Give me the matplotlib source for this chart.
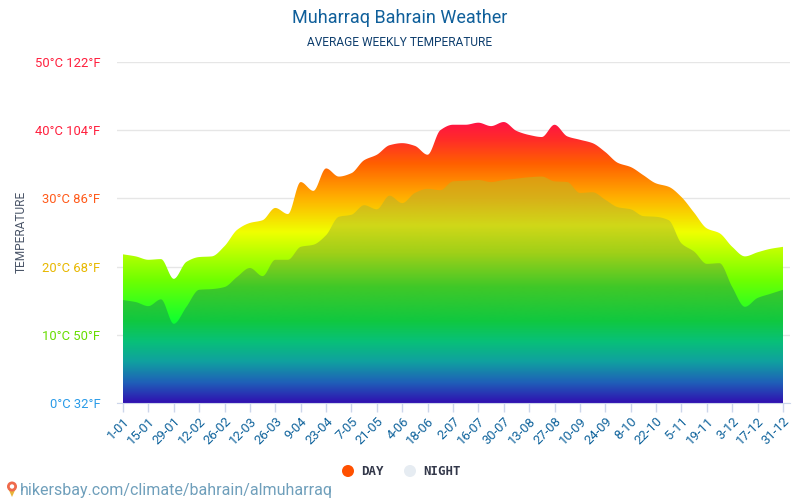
import numpy as np
import matplotlib
matplotlib.use("Agg")
import matplotlib.pyplot as plt
from matplotlib.colors import LinearSegmentedColormap
from matplotlib.patches import Circle, Polygon

plt.rcParams["font.family"] = ["Roboto", "DejaVu Sans"]

day = [21.8, 21.5, 21.0, 21.1, 18.2, 20.7, 21.4, 21.5, 23.0, 25.4, 26.4, 26.8, 28.6, 27.7,
       32.4, 31.1, 34.4, 33.2, 33.7, 35.6, 36.4, 37.8, 38.1, 37.7, 36.4, 40.0, 40.8, 40.8,
       41.1, 40.6, 41.2, 39.9, 39.3, 39.0, 40.8, 39.1, 38.6, 38.1, 36.8, 35.2, 34.6, 33.4,
       32.2, 31.7, 30.2, 27.9, 25.6, 24.9, 22.9, 21.5, 22.1, 22.6, 22.9]
night = [15.1, 14.8, 14.2, 15.2, 11.6, 14.1, 16.6, 16.7, 17.0, 18.5, 19.8, 18.6, 21.0, 21.0,
         22.9, 23.2, 24.6, 27.3, 27.6, 29.0, 28.4, 30.4, 29.3, 30.8, 31.4, 31.2, 32.5, 32.6,
         32.7, 32.4, 32.7, 32.9, 33.1, 33.2, 32.5, 32.4, 30.8, 30.9, 29.8, 28.7, 28.4, 27.4,
         27.3, 26.8, 23.4, 22.2, 20.4, 20.5, 17.0, 14.1, 15.4, 16.0, 16.6]
dates = ["1-01", "15-01", "29-01", "12-02", "26-02", "12-03", "26-03", "9-04", "23-04",
         "7-05", "21-05", "4-06", "18-06", "2-07", "16-07", "30-07", "13-08", "27-08",
         "10-09", "24-09", "8-10", "22-10", "5-11", "19-11", "3-12", "17-12", "31-12"]
y_ticks = [0, 10, 20, 30, 40, 50]
y_labels = ["0°C 32°F", "10°C 50°F", "20°C 68°F", "30°C 86°F", "40°C 104°F", "50°C 122°F"]
y_colors = ["#2a9be8", "#66dd00", "#e8b800", "#ff5a1a", "#ff1f3d", "#ff1f3d"]

day_stops = [(0, "#3010b0"), (3, "#1f60b8"), (6, "#10a0a0"), (9, "#08d070"), (12, "#10ff30"),
             (18, "#70ff00"), (25, "#f0ff00"), (30, "#ffb000"), (35, "#ff6000"),
             (38.5, "#ff2c28"), (41.5, "#ff0f4a")]
night_stops = [(0, "#3010b0"), (3, "#1f60b8"), (6, "#10a0a0"), (9, "#08c078"), (12, "#10c840"),
               (17, "#40c828"), (22, "#a0d018"), (26, "#d0d818"), (30, "#d8b018"),
               (33.5, "#e09a10")]


def monotone(y, n=12):
    # monotone cubic through the weekly points, like the original chart's smoothing
    y = np.asarray(y, dtype=float)
    d = np.diff(y)
    m = np.zeros(len(y))
    m[1:-1] = np.where(d[:-1] * d[1:] > 0, 2 * d[:-1] * d[1:] / (d[:-1] + d[1:]), 0)
    m[0], m[-1] = d[0], d[-1]
    xs, ys = [], []
    for i in range(len(d)):
        t = np.linspace(0, 1, n, endpoint=False)
        yy = ((2*t**3 - 3*t**2 + 1) * y[i] + (t**3 - 2*t**2 + t) * m[i]
              + (-2*t**3 + 3*t**2) * y[i+1] + (t**3 - t**2) * m[i+1])
        xs.append(i + t)
        ys.append(yy)
    return np.r_[np.concatenate(xs), len(d)], np.r_[np.concatenate(ys), y[-1]]


def gradient_area(ax, values, stops):
    vmax = stops[-1][0]
    cmap = LinearSegmentedColormap.from_list("g", [(v / vmax, c) for v, c in stops], N=512)
    x, y = monotone(values)
    poly = Polygon(np.r_[[[x[0], 0]], np.c_[x, y], [[x[-1], 0]]], closed=True,
                   fc="none", ec="none", transform=ax.transData)
    ax.add_patch(poly)
    img = ax.imshow(np.linspace(0, 1, 512)[:, None], cmap=cmap, origin="lower", aspect="auto",
                    extent=(x[0], x[-1], 0, vmax), zorder=2, interpolation="bilinear")
    img.set_clip_path(poly)


W, H = 800, 500
fig = plt.figure(figsize=(8, 5), dpi=100)
ax = fig.add_axes([117 / W, (H - 403) / H, (790 - 117) / W, (403 - 62) / H])

gradient_area(ax, day, day_stops)
gradient_area(ax, night, night_stops)

week = 660 / 52
ax.set_xlim(-6 / week, 52 + 7 / week)
ax.set_ylim(0, 50)

for s in ["top", "right", "left"]:
    ax.spines[s].set_visible(False)
ax.spines["bottom"].set_color("#ccd6eb")
ax.spines["bottom"].set_zorder(3)
ax.grid(axis="y", color="#e6e6e6", lw=1, zorder=0)
ax.set_axisbelow(True)

ax.set_yticks(y_ticks)
ax.set_yticklabels(y_labels, fontsize=9.4)
ax.tick_params(axis="y", length=0, pad=12)
for lab, col in zip(ax.get_yticklabels(), y_colors):
    lab.set_color(col)

ax.set_xticks(np.arange(len(dates)) * 2)
ax.set_xticklabels(dates, fontsize=9.4, color="#0f639c", rotation=45, ha="right",
                   va="top", rotation_mode="anchor")
ax.tick_params(axis="x", length=6.5, width=1, color="#ccd6eb", pad=2)

fig.text(400 / W, 1 - 18 / H, "Muharraq Bahrain Weather", fontsize=13, color="#0f5f9a",
         ha="center", va="center")
fig.text(400 / W, 1 - 42 / H, "AVERAGE WEEKLY TEMPERATURE", fontsize=8.6, color="#0f3f6e",
         ha="center", va="center")
fig.text(21 / W, 1 - 232 / H, "TEMPERATURE", fontsize=8.6, color="#4a5568", rotation=90,
         ha="center", va="center")

# legend, drawn in pixel coordinates
px = fig.add_axes([0, 0, 1, 1], zorder=5)
px.set_xlim(0, W)
px.set_ylim(H, 0)
px.axis("off")
px.patch.set_alpha(0)
px.add_patch(Circle((348, 471), 6, fc="#ff5000", ec="none"))
px.add_patch(Circle((410, 471), 6, fc="#e6ecf2", ec="none"))
px.text(361, 471.5, "DAY", fontsize=8.9, family="DejaVu Sans Mono", weight="bold",
        color="#33384a", va="center")
px.text(423, 471.5, "NIGHT", fontsize=8.9, family="DejaVu Sans Mono", weight="bold",
        color="#33384a", va="center")

# map pin and source link
px.add_patch(Polygon([(7.5, 487), (16.5, 487), (12, 497)], fc="#e8b53a", ec="none"))
px.add_patch(Circle((12, 486.5), 5, fc="#ef6a4c", ec="none"))
px.add_patch(Circle((12, 486.5), 2.2, fc="white", ec="none"))
px.text(20, 490, "hikersbay.com/climate/bahrain/almuharraq", fontsize=11.5,
        color="#6f9fbb", va="center")

fig.savefig("out.png", dpi=100)
